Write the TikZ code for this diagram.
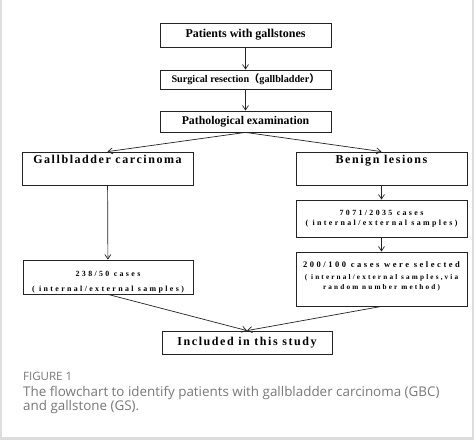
\documentclass[tikz,border=0pt]{standalone}
\usepackage{fontspec}
\setmainfont{Liberation Serif}
\newfontfamily\capfont{Open Sans}
\newfontfamily\cjk{Noto Sans CJK SC}
\newfontfamily\widefont[LetterSpace=13]{Liberation Serif}
\newfontfamily\widerfont[LetterSpace=30]{Liberation Serif}
\usetikzlibrary{arrows.meta, positioning}
\definecolor{framegray}{RGB}{221,221,221}
\definecolor{linegray}{RGB}{35,35,35}
\definecolor{capgray}{RGB}{120,120,120}

\begin{document}
\begin{tikzpicture}[x=1pt, y=-1pt,
    box/.style={rectangle, draw=linegray, line width=0.8pt, minimum width=171pt, inner sep=0pt, align=center, font=\bfseries},
    topbox/.style={box, minimum height=33pt, text height=8.5pt, text depth=19pt, font=\widefont\bfseries\fontsize{12}{14}\selectfont},
    smallbox/.style={box, font=\widerfont\bfseries\fontsize{7.9}{10.5}\selectfont},
    arrow/.style={-{Straight Barb[length=4.5pt, width=6pt]}, line width=0.7pt, linegray}
]
    % Frame
    \fill[framegray] (0,0) rectangle (474,440);
    \fill[white] (2,0) rectangle (472,437);
    \useasboundingbox (0,0) rectangle (474,440);

    % Top chain
    \node[box, minimum height=24pt, font=\bfseries\fontsize{12}{14}\selectfont] (pat) at (245.5,35) {Patients with gallstones};
    \node[box, minimum height=19pt, font=\bfseries\fontsize{10.2}{12}\selectfont] (surg) at (245.5,79.5) {Surgical resection{\cjk （}gallbladder{\cjk ）}};
    \node[box, minimum height=21pt, font=\bfseries\fontsize{11.8}{14}\selectfont] (path) at (245.5,121.5) {Pathological examination};

    % Branches
    \node[topbox] (gbc) at (107.5,168.5) {Gallbladder carcinoma};
    \node[topbox] (ben) at (381.5,168.5) {Benign lesions};

    % Cases
    \node[smallbox, minimum height=37pt] (all) at (381.5,218.5) {7071/2035 cases\\( internal/external samples)};
    \node[smallbox, minimum width=170pt, minimum height=34pt] (gbcn) at (108,277) {\rule{0pt}{15.5pt}238/50 cases\\[5pt]( internal/external samples)};
    \node[smallbox, minimum height=54pt, font=\widerfont\bfseries\fontsize{7.2}{10}\selectfont] (sel) at (381.5,279) {{\fontsize{8.5}{11}\selectfont 200/100 cases were selected}\\[1.5pt]( internal/external samples,via\\random number method)\rule[-7pt]{0pt}{7pt}};

    % Study
    \node[box, minimum width=170pt, minimum height=23pt, font=\widefont\bfseries\fontsize{12}{14}\selectfont] (inc) at (247,342.5) {Included in this study};

    % Arrows
    \draw[arrow] (pat) -- (surg);
    \draw[arrow] (surg) -- (path);
    \draw[arrow] (path.south) -- (gbc.north);
    \draw[arrow] (path.south) -- (ben.north);
    \draw[arrow] (gbc) -- (gbcn);
    \draw[arrow] (ben) -- (all);
    \draw[arrow] (all) -- (sel);
    \draw[arrow] (gbcn.south) -- (inc.north);
    \draw[arrow] (sel.south) -- (inc.north);

    % Caption
    \node[anchor=base west, inner sep=0pt, capgray, font=\capfont\fontsize{11.5}{13}\selectfont] (fig) at (23,380) {FIGURE 1};
    \node[anchor=north west, inner sep=0pt, capgray, align=left, font=\capfont\fontsize{13.4}{14.5}\selectfont] (cap) at (23,386) {The flowchart to identify patients with gallbladder carcinoma (GBC)\\and gallstone (GS).};
\end{tikzpicture}
\end{document}
